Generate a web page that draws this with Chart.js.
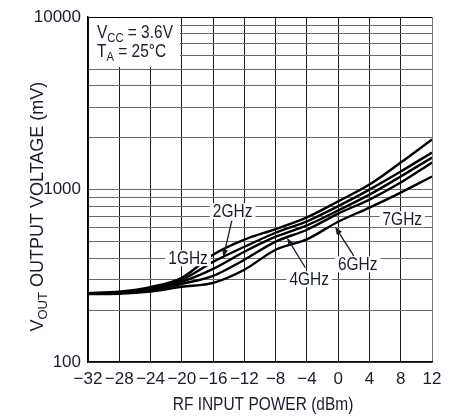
<!DOCTYPE html>
<html>
<head>
<meta charset="utf-8">
<script src="https://cdn.jsdelivr.net/npm/chart.js@4.4.1/dist/chart.umd.min.js"></script>
<style>
  html, body { margin: 0; padding: 0; background: #fff; }
  #wrap { width: 470px; height: 420px; }
</style>
</head>
<body>
<div id="wrap"><canvas id="vout" width="470" height="420"></canvas></div>
<script>
const FONT = "'Liberation Sans', Arial, sans-serif"
const INK = '#181d2c'
const SQUEEZE = 0.86 // the datasheet face is a condensed grotesque

// RF input power (dBm) and output voltage (mV) per frequency
const inputPower = [-32, -28, -24, -20, -16, -12, -8, -4, 0, 4, 8, 12]
const vout1GHz = [251, 256, 272, 308, 419, 512, 590, 690, 855, 1069, 1435, 1954]
const vout2GHz = [250, 254, 268, 300, 381, 466, 562, 655, 802, 1000, 1273, 1641]
const vout4GHz = [250, 252, 264, 292, 347, 436, 533, 620, 757, 935, 1191, 1535]
const vout6GHz = [249, 251, 260, 284, 316, 392, 499, 585, 726, 875, 1099, 1435]
const vout7GHz = [248, 249, 256, 273, 288, 343, 448, 515, 651, 786, 961, 1191]

const xTicks = [-32, -28, -24, -20, -16, -12, -8, -4, 0, 4, 8, 12]
const yTickLabels = [100, 1000, 10000]

// curve labels, placed in data units (dBm, mV); arrows go from tail to tip
const curveLabels = ['1GHz', '2GHz', '4GHz', '6GHz', '7GHz']
const labelAt = [[-19.2, 400], [-13.5, 750], [-3.7, 302], [2.5, 369], [8.2, 674]]
const arrowTail = [null, [-13.6, 661], [-4.2, 352], [2.0, 413], null]
const arrowTip = [null, [-14.7, 405], [-6.55, 526], [-0.4, 609], null]

const series = [vout1GHz, vout2GHz, vout4GHz, vout6GHz, vout7GHz]

// log grid: 1..9 in each decade
const yGrid = []
for (let d = 100; d < 10000; d *= 10) {
  for (let m = 1; m < 10; m++) yGrid.push(m * d)
}
yGrid.push(10000)

const minus = v => v < 0 ? '\u2212' + (-v) : String(v)

// text with subscripts: parts = [[text, isSub], ...]
function partsWidth(ctx, parts, big, small) {
  let w = 0
  for (const [t, sub] of parts) {
    ctx.font = (sub ? small : big) + 'px ' + FONT
    w += ctx.measureText(t).width
  }
  return w
}
function drawParts(ctx, parts, x, y, big, small, align, squeeze = SQUEEZE) {
  const w = partsWidth(ctx, parts, big, small)
  ctx.save()
  ctx.translate(x, y)
  ctx.scale(squeeze, 1)
  ctx.textAlign = 'left'
  let cx = align === 'center' ? -w / 2 : 0
  for (const [t, sub] of parts) {
    ctx.font = (sub ? small : big) + 'px ' + FONT
    ctx.fillText(t, cx, sub ? 4 : 0)
    cx += ctx.measureText(t).width
  }
  ctx.restore()
}

function arrow(ctx, x0, y0, x1, y1) {
  const ang = Math.atan2(y1 - y0, x1 - x0)
  const len = 8, half = 3
  ctx.beginPath()
  ctx.moveTo(x0, y0)
  ctx.lineTo(x1 - Math.cos(ang) * len * 0.8, y1 - Math.sin(ang) * len * 0.8)
  ctx.stroke()
  ctx.beginPath()
  ctx.moveTo(x1, y1)
  ctx.lineTo(x1 - Math.cos(ang) * len - Math.sin(ang) * half, y1 - Math.sin(ang) * len + Math.cos(ang) * half)
  ctx.lineTo(x1 - Math.cos(ang) * len + Math.sin(ang) * half, y1 - Math.sin(ang) * len - Math.cos(ang) * half)
  ctx.closePath()
  ctx.fill()
}

const overlay = {
  id: 'overlay',
  afterDatasetsDraw(chart) {
    const { ctx, chartArea: a, scales: { x, y } } = chart
    ctx.save()
    ctx.textBaseline = 'alphabetic'

    // conditions box
    ctx.fillStyle = '#fff'
    ctx.fillRect(a.left + 1, a.top + 1, 91, 49)
    ctx.fillStyle = INK
    drawParts(ctx, [['V', false], ['CC', true], [' = 3.6V', false]], a.left + 9, a.top + 21, 18, 13)
    drawParts(ctx, [['T', false], ['A', true], [' = 25\u00b0C', false]], a.left + 9, a.top + 40, 18, 13)

    // curve labels with white backing
    ctx.font = '18px ' + FONT
    ctx.textBaseline = 'middle'
    curveLabels.forEach((t, i) => {
      const px = x.getPixelForValue(labelAt[i][0])
      const py = y.getPixelForValue(labelAt[i][1])
      const w = ctx.measureText(t).width * SQUEEZE
      ctx.fillStyle = '#fff'
      ctx.fillRect(px - w / 2 - 3, py - 8, w + 6, 16)
      ctx.fillStyle = INK
      drawParts(ctx, [[t, false]], px, py + 1, 18, 13, 'center')
    })

    // leader arrows
    ctx.strokeStyle = INK
    ctx.fillStyle = INK
    ctx.lineWidth = 1.3
    arrowTail.forEach((tail, i) => {
      if (!tail) return
      const tip = arrowTip[i]
      arrow(ctx, x.getPixelForValue(tail[0]), y.getPixelForValue(tail[1]),
        x.getPixelForValue(tip[0]), y.getPixelForValue(tip[1]))
    })

    // axis titles
    ctx.fillStyle = INK
    ctx.textBaseline = 'middle'
    drawParts(ctx, [['RF INPUT POWER (dBm)', false]], (a.left + a.right) / 2 + 3, a.bottom + 43, 18, 13, 'center')

    ctx.textBaseline = 'alphabetic'
    ctx.translate(43, (a.top + a.bottom) / 2 + 17)
    ctx.rotate(-Math.PI / 2)
    drawParts(ctx, [['V', false], ['OUT', true], [' OUTPUT VOLTAGE (mV)', false]], 0, 0, 18, 13, 'center', 1)
    ctx.restore()
  }
}

new Chart(document.getElementById('vout'), {
  type: 'line',
  data: {
    datasets: series.map((vals, i) => ({
      label: curveLabels[i],
      data: inputPower.map((p, j) => ({ x: p, y: vals[j] })),
      borderColor: '#000',
      borderWidth: 2.4,
      pointRadius: 0,
      fill: false,
      cubicInterpolationMode: 'monotone'
    }))
  },
  options: {
    responsive: false,
    animation: false,
    layout: { padding: { top: 17, right: 38, left: 0, bottom: 0 } },
    plugins: { legend: { display: false }, tooltip: { enabled: false } },
    scales: {
      x: {
        type: 'linear',
        min: -32,
        max: 12,
        afterBuildTicks: s => { s.ticks = xTicks.map(v => ({ value: v })) },
        afterFit: s => { s.height = 58 },
        grid: {
          drawTicks: false,
          lineWidth: 1,
          color: c => c.tick && c.tick.value === 12 ? '#777' : '#1a1a1a'
        },
        border: { color: '#000', width: 1.5 },
        ticks: {
          autoSkip: false,
          maxRotation: 0,
          padding: 7,
          color: INK,
          font: { family: FONT, size: 17 },
          callback: v => minus(v)
        }
      },
      y: {
        type: 'logarithmic',
        min: 100,
        max: 10000,
        afterBuildTicks: s => { s.ticks = yGrid.map(v => ({ value: v })) },
        afterFit: s => { s.width = 88 },
        grid: {
          drawTicks: false,
          lineWidth: 1,
          color: c => c.tick && c.tick.value === 10000 ? '#000' : '#6a6a6a'
        },
        border: { color: '#000', width: 1.5 },
        ticks: {
          autoSkip: false,
          padding: 7,
          color: INK,
          font: { family: FONT, size: 17 },
          callback: v => yTickLabels.includes(v) ? String(v) : ''
        }
      }
    }
  },
  plugins: [overlay]
})
</script>
</body>
</html>
